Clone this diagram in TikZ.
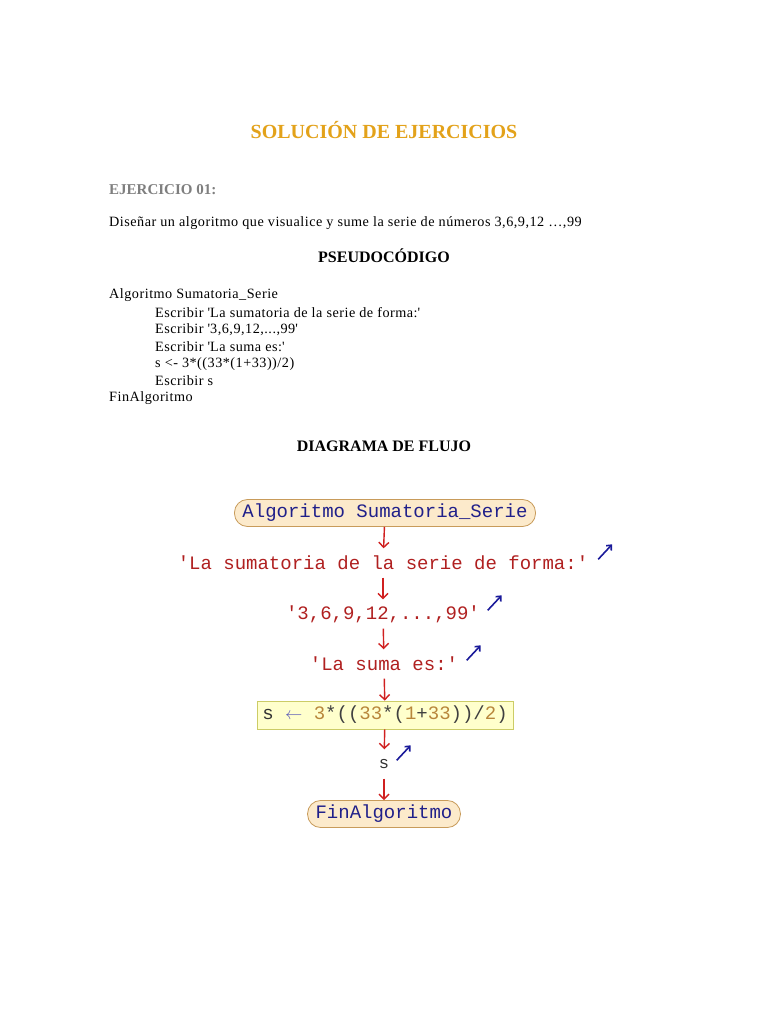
\documentclass[tikz,border=0pt]{standalone}
\usepackage{fontspec}
\setmainfont{Liberation Serif}
\newfontfamily\monof{Liberation Mono}
\newfontfamily\bodyf[LetterSpace=3.5]{Liberation Serif}
\usetikzlibrary{arrows.meta,calc,backgrounds}
\newcommand{\qq}{\textquotesingle}
\definecolor{gold}{HTML}{E3A21A}
\definecolor{grayh}{HTML}{7F7F7F}
\definecolor{strc}{HTML}{B02020}
\definecolor{kwc}{HTML}{20208A}
\definecolor{numc}{HTML}{B8863B}
\definecolor{termf}{HTML}{FCEACB}
\definecolor{termd}{HTML}{C89B5A}
\definecolor{iof}{HTML}{D6F2D6}
\definecolor{iod}{HTML}{7CC07C}
\definecolor{procf}{HTML}{FFFFCC}
\definecolor{procd}{HTML}{CCCC66}
\definecolor{arr}{HTML}{D02020}
\definecolor{blu}{HTML}{1A1A9A}
\tikzset{
 x=1pt,y=-1pt,
 body/.style={anchor=west,inner sep=0,font=\bodyf\fontsize{14.2}{15}\selectfont},
 term/.style={draw=termd,fill=termf,rounded corners=13pt,minimum height=27pt,inner xsep=8pt,font=\monof\fontsize{19}{20}\selectfont,text=kwc,line width=0.8pt},
 io/.style={minimum height=29pt,inner xsep=0pt,font=\monof\fontsize{19}{20}\selectfont,text=strc},
 iobox/.style={draw=iod,fill=iof,line width=0.8pt},
 proc/.style={draw=procd,fill=procf,minimum height=28pt,minimum width=256pt,font=\monof\fontsize{19}{20}\selectfont,line width=0.8pt},
 flow/.style={draw=arr,line width=1.4pt,-{Straight Barb[length=5pt,width=10pt,line width=1.4pt]}},
 outarr/.style={draw=blu,line width=1.6pt,-{Straight Barb[length=4pt,width=7pt]}}
}
\begin{document}
\begin{tikzpicture}
\useasboundingbox[fill=white] (0,0) rectangle (768,1024);
\node[font=\bfseries\fontsize{20}{22}\selectfont,text=gold] (title) at (384,130) {SOLUCIÓN DE EJERCICIOS};
\node[body,font=\bfseries\fontsize{15}{17}\selectfont,text=grayh] (ej) at (109,190) {EJERCICIO 01:};
\node[body] (enun) at (109,223) {Diseñar un algoritmo que visualice y sume la serie de números 3,6,9,12 …,99};
\node[font=\bfseries\fontsize{16}{17}\selectfont] (pseudo) at (384,256) {PSEUDOCÓDIGO};
\node[body] (l1) at (109,295) {Algoritmo Sumatoria\_Serie};
\node[body] (l2) at (155,313) {Escribir \qq La sumatoria de la serie de forma:\qq};
\node[body] (l3) at (155,330) {Escribir \qq 3,6,9,12,...,99\qq};
\node[body] (l4) at (155,347) {Escribir \qq La suma es:\qq};
\node[body] (l5) at (155,364) {s <- 3*((33*(1+33))/2)};
\node[body] (l6) at (155,381) {Escribir s};
\node[body] (l7) at (109,398) {FinAlgoritmo};
\node[font=\bfseries\fontsize{16}{17}\selectfont] (dia) at (384,446) {DIAGRAMA DE FLUJO};

\node[term] (start) at (385,513) {Algoritmo Sumatoria\_Serie};
\node[io,minimum width=430pt] (p1) at (383,563) {\qq La sumatoria de la serie de forma:\qq};
\node[io,minimum width=209pt] (p2) at (383,614) {\qq 3,6,9,12,...,99\qq};
\node[io,minimum width=165pt] (p3) at (384,664) {\qq La suma es:\qq};
\node[proc] (pr) at (385,715) {\textcolor{black!80}{s} \textcolor{blu!70}{$\leftarrow$} \textcolor{numc}{3}\textcolor{black!75}{*((}\textcolor{numc}{33}\textcolor{black!75}{*(}\textcolor{numc}{1}\textcolor{black!75}{+}\textcolor{numc}{33}\textcolor{black!75}{))/}\textcolor{numc}{2}\textcolor{black!75}{)}};
\node[io,minimum width=25pt,text=black!80,font=\monof\fontsize{17}{18}\selectfont] (p4) at (384,764) {s};
\node[term] (fin) at (384,814) {FinAlgoritmo};

\begin{scope}[on background layer]
\foreach \n in {p1,p2,p3,p4}{
  \draw[iobox] ([xshift=10pt]\n.north west) -- ([xshift=10pt]\n.north east) -- ([xshift=-10pt]\n.south east) -- ([xshift=-10pt]\n.south west) -- cycle;
}
\end{scope}
\foreach \n in {p1,p2,p3,p4}{
  \coordinate (\n tr) at ([xshift=10pt]\n.north east);
  \coordinate (\n a) at ($(\n tr)+(-10,11)$);
  \coordinate (\n b) at ($(\n tr)+(4,-4)$);
  \draw[outarr] (\n a) -- (\n b);
}
\draw[flow] (start) -- (p1);
\draw[flow] (p1) -- (p2);
\draw[flow] (p2) -- (p3);
\draw[flow] (p3) -- (pr);
\draw[flow] (pr) -- (p4);
\draw[flow] (p4) -- (fin);
\end{tikzpicture}
\end{document}
